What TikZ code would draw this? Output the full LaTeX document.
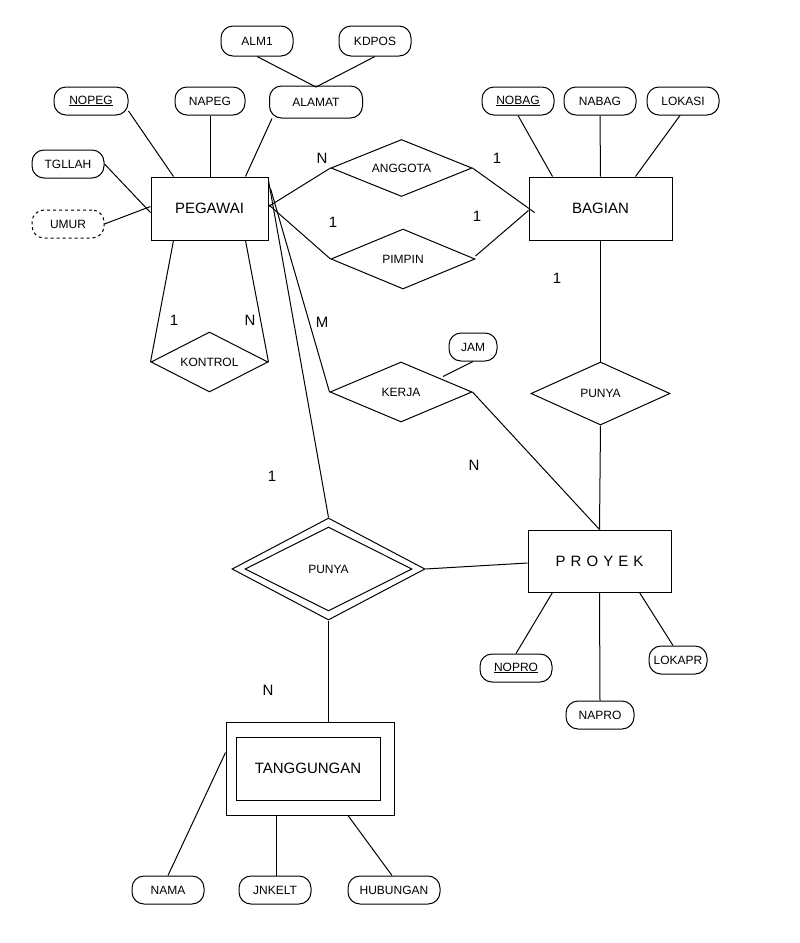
\documentclass[tikz,border=0pt]{standalone}
\usepackage{fontspec}
\setmainfont{Liberation Sans}
\usetikzlibrary{shapes.geometric}
\begin{document}
\begin{tikzpicture}[x=1pt,y=-1pt,line width=1pt,
 ent/.style={draw,minimum width=117pt,minimum height=63pt,font=\fontsize{15}{15}\selectfont},
 att/.style={draw,rounded corners=12pt,minimum width=74pt,minimum height=28pt,font=\fontsize{12}{12}\selectfont,inner sep=2pt},
 rel/.style={draw,diamond,aspect=2.35,inner sep=0pt,font=\fontsize{12}{12}\selectfont},
 lab/.style={font=\fontsize{15}{15}\selectfont}]
\useasboundingbox (0,0) rectangle (800,943);
% entities
\node[ent] (peg) at (209.5,208.5) {PEGAWAI};
\node[ent,minimum width=143pt] (bag) at (600.5,208.5) {BAGIAN};
\node[ent,minimum width=143pt,minimum height=62pt] (pro) at (599.5,561) {P\,\,R\,\,O\,\,Y\,\,E\,\,K};
\node[draw,minimum width=168pt,minimum height=93pt] (tgo) at (310,768.5) {};
\node[draw,minimum width=144pt,minimum height=63pt,font=\fontsize{15}{15}\selectfont] (tg) at (308,768.5) {TANGGUNGAN};
% relationships
\node[rel,minimum width=141pt,minimum height=57pt] (ang) at (401.5,168) {ANGGOTA};
\node[rel,minimum width=144pt,minimum height=60pt] (pim) at (403,259) {PIMPIN};
\node[rel,minimum width=117pt,minimum height=60pt] (kon) at (209.5,362) {KONTROL};
\node[rel,minimum width=142pt,minimum height=60pt] (ker) at (401,392) {KERJA};
\node[rel,minimum width=139pt,minimum height=63pt] (pb) at (600.5,393.5) {PUNYA};
\node[rel,minimum width=193pt,minimum height=102pt] (pdo) at (328.5,569) {};
\node[rel,minimum width=167pt,minimum height=84pt] (pd) at (328.5,569) {PUNYA};
% attributes
\node[att,minimum width=72pt,minimum height=30pt] (alm1) at (257,41) {ALM1};
\node[att,minimum width=72pt,minimum height=30pt] (kdp) at (375,41) {KDPOS};
\node[att] (nopeg) at (91,101) {\underline{NOPEG}};
\node[att,minimum width=70pt] (napeg) at (210,101) {NAPEG};
\node[att,minimum width=93pt,minimum height=32pt] (alamat) at (316,102) {ALAMAT};
\node[att,minimum width=72pt] (tgl) at (68,164) {TGLLAH};
\node[att,dashed,minimum width=72pt] (umur) at (68,224) {UMUR};
\node[att,minimum width=72pt] (nobag) at (518,101) {\underline{NOBAG}};
\node[att,minimum width=72pt] (nabag) at (600,101) {NABAG};
\node[att,minimum width=72pt] (lok) at (683,101) {LOKASI};
\node[att,minimum width=48pt] (jam) at (473,347) {JAM};
\node[att,minimum width=72pt] (nopro) at (516,668) {\underline{NOPRO}};
\node[att,minimum width=68pt] (napro) at (600,715) {NAPRO};
\node[att,minimum width=58pt] (lokapr) at (678,660) {LOKAPR};
\node[att,minimum width=72pt] (nama) at (168,890) {NAMA};
\node[att,minimum width=72pt] (jnk) at (275,890) {JNKELT};
\node[att,minimum width=92pt] (hub) at (394,890) {HUBUNGAN};
% connectors
\coordinate (aj) at (316,87);
\draw (alm1.south) -- (aj) -- (kdp.south);
\draw (nopeg.east) ++(0,10) -- ([xshift=-36pt]peg.north);
\draw (napeg.south) -- ([xshift=0.5pt]peg.north);
\draw ([xshift=-44pt]alamat.south) -- ([xshift=36pt]peg.north);
\draw (tgl.east) -- ([yshift=-4pt]peg.west);
\draw (umur.east) -- ([yshift=2pt]peg.west);
\draw ([yshift=2pt]peg.east) -- (ang.west);
\draw (ang.east) -- ([yshift=-4pt,xshift=6pt]bag.west);
\draw ([yshift=4pt]peg.east) -- (pim.west);
\draw ([yshift=3pt]pim.east) -- ([yshift=-2pt]bag.west);
\draw ([xshift=-36pt]peg.south) -- (kon.west);
\draw ([xshift=36pt]peg.south) -- (kon.east);
\draw ([yshift=20pt,xshift=2pt]peg.east) -- (ker.west);
\draw (ker.east) -- (pro.north);
\draw (jam.south) -- ++(-30,15);
\draw ([yshift=28pt]peg.east) -- (pdo.north);
\draw (pdo.east) -- ([yshift=-2pt]pro.west);
\draw (pdo.south) -- ([xshift=18.5pt]tgo.north);
\draw (bag.south) -- (pb.north);
\draw (pb.south) -- (pro.north);
\draw (nobag.south) -- ([xshift=-48pt]bag.north);
\draw (nabag.south) -- (bag.north);
\draw ([xshift=-3pt]lok.south) -- ([xshift=35pt]bag.north);
\draw ([xshift=-47pt]pro.south) -- ([xshift=0pt]nopro.north);
\draw (pro.south) -- (napro.north);
\draw ([xshift=40pt]pro.south) -- ([xshift=-5pt]lokapr.north);
\draw ([yshift=16pt]tgo.west) -- (nama.north);
\draw ([xshift=-34pt]tgo.south) -- ([xshift=1pt]jnk.north);
\draw ([xshift=38pt]tgo.south) -- ([xshift=-2pt]hub.north);
% cardinalities
\node[lab] (c1) at (322,158) {N};
\node[lab] (c2) at (497,158) {1};
\node[lab] (c3) at (333,222) {1};
\node[lab] (c4) at (477,216) {1};
\node[lab] (c5) at (557,278) {1};
\node[lab] (c6) at (174,320) {1};
\node[lab] (c7) at (250,320) {N};
\node[lab] (c8) at (322,322) {M};
\node[lab] (c9) at (474,465) {N};
\node[lab] (c10) at (272,476) {1};
\node[lab] (c11) at (268,690) {N};
\end{tikzpicture}
\end{document}
